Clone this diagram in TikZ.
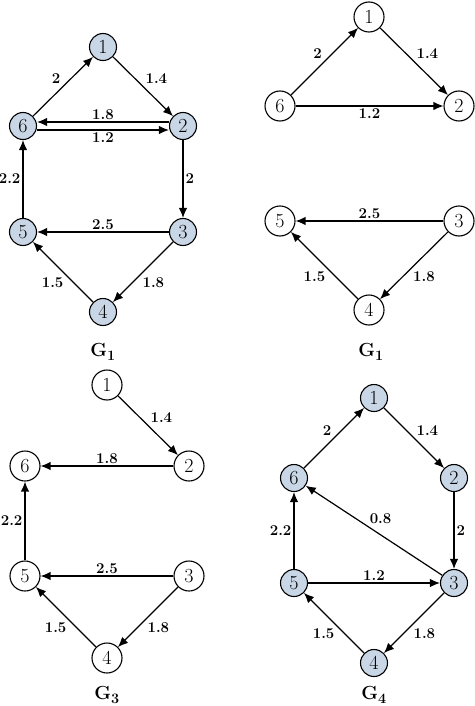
\documentclass[tikz,border=0pt]{standalone}
\usepackage{amsmath}
\usetikzlibrary{arrows.meta}
\definecolor{nodefill}{RGB}{201,214,230}
\tikzset{
  gnode/.style  ={circle,draw,line width=1.1pt,inner sep=0pt,
                  font=\fontsize{20}{22}\selectfont},
  fnode/.style  ={gnode,fill=nodefill,minimum size=27pt},
  wnode/.style  ={gnode,fill=white,minimum size=30pt},
  flow/.style   ={-{Latex[length=10pt,width=8.5pt]},line width=1.2pt},
  wlab/.style   ={font=\fontsize{15}{17}\selectfont\bfseries,inner sep=2pt},
  glab/.style   ={font=\fontsize{19}{21}\selectfont\bfseries},
}
\begin{document}
\begin{tikzpicture}[x=1pt,y=-1pt]
\useasboundingbox (0,0) rectangle (474,706);
% G1 (top left)
\node[fnode] (a1) at (103,47)  {1};
\node[fnode] (a2) at (183,126) {2};
\node[fnode] (a3) at (183,232) {3};
\node[fnode] (a4) at (103,312) {4};
\node[fnode] (a5) at (23,232)  {5};
\node[fnode] (a6) at (23,126)  {6};
\node[glab]  (g1) at (103,352) {G$_{\boldsymbol 1}$};
\draw[flow] (a6) -- node[wlab,above left] {2} (a1);
\draw[flow] (a1) -- node[wlab,above right] {1.4} (a2);
\draw[flow] ([yshift=4pt]a2.west) -- node[wlab,above] {1.8} ([yshift=4pt]a6.east);
\draw[flow] ([yshift=-4pt]a6.east) -- node[wlab,below] {1.2} ([yshift=-4pt]a2.west);
\draw[flow] (a2) -- node[wlab,right] {2} (a3);
\draw[flow] (a5) -- node[wlab,left] {2.2} (a6);
\draw[flow] (a3) -- node[wlab,above] {2.5} (a5);
\draw[flow] (a3) -- node[wlab,below right,pos=0.55] {1.8} (a4);
\draw[flow] (a4) -- node[wlab,below left,pos=0.45] {1.5} (a5);
% G2 (top right)
\node[wnode] (b1) at (369,17)  {1};
\node[wnode] (b2) at (459,106) {2};
\node[wnode] (b3) at (459,221) {3};
\node[wnode] (b4) at (369,310) {4};
\node[wnode] (b5) at (280,221) {5};
\node[wnode] (b6) at (280,106) {6};
\node[glab]  (g2) at (371,352) {G$_{\boldsymbol 1}$};
\draw[flow] (b6) -- node[wlab,above left] {2} (b1);
\draw[flow] (b1) -- node[wlab,above right] {1.4} (b2);
\draw[flow] (b6) -- node[wlab,below] {1.2} (b2);
\draw[flow] (b3) -- node[wlab,above] {2.5} (b5);
\draw[flow] (b3) -- node[wlab,below right,pos=0.55] {1.8} (b4);
\draw[flow] (b4) -- node[wlab,below left,pos=0.45] {1.5} (b5);
% G3 (bottom left)
\node[wnode] (c1) at (107,385) {1};
\node[wnode] (c2) at (189,466) {2};
\node[wnode] (c3) at (189,576) {3};
\node[wnode] (c4) at (107,658) {4};
\node[wnode] (c5) at (25,576)  {5};
\node[wnode] (c6) at (25,466)  {6};
\node[glab]  (g3) at (107,695) {G$_{\boldsymbol 3}$};
\draw[flow] (c1) -- node[wlab,above right] {1.4} (c2);
\draw[flow] (c2) -- node[wlab,above] {1.8} (c6);
\draw[flow] (c5) -- node[wlab,left] {2.2} (c6);
\draw[flow] (c3) -- node[wlab,above] {2.5} (c5);
\draw[flow] (c3) -- node[wlab,below right,pos=0.55] {1.8} (c4);
\draw[flow] (c4) -- node[wlab,below left,pos=0.45] {1.5} (c5);
% G4 (bottom right)
\node[fnode] (d1) at (374,398) {1};
\node[fnode] (d2) at (454,478) {2};
\node[fnode] (d3) at (454,583) {3};
\node[fnode] (d4) at (374,663) {4};
\node[fnode] (d5) at (294,583) {5};
\node[fnode] (d6) at (294,478) {6};
\node[glab]  (g4) at (374,695) {G$_{\boldsymbol 4}$};
\draw[flow] (d6) -- node[wlab,above left] {2} (d1);
\draw[flow] (d1) -- node[wlab,above right] {1.4} (d2);
\draw[flow] (d2) -- node[wlab,right] {2} (d3);
\draw[flow] (d3) -- node[wlab,above right,pos=0.55] {0.8} (d6);
\draw[flow] (d5) -- node[wlab,left] {2.2} (d6);
\draw[flow] (d5) -- node[wlab,above] {1.2} (d3);
\draw[flow] (d3) -- node[wlab,below right,pos=0.55] {1.8} (d4);
\draw[flow] (d4) -- node[wlab,below left,pos=0.45] {1.5} (d5);
\end{tikzpicture}
\end{document}
